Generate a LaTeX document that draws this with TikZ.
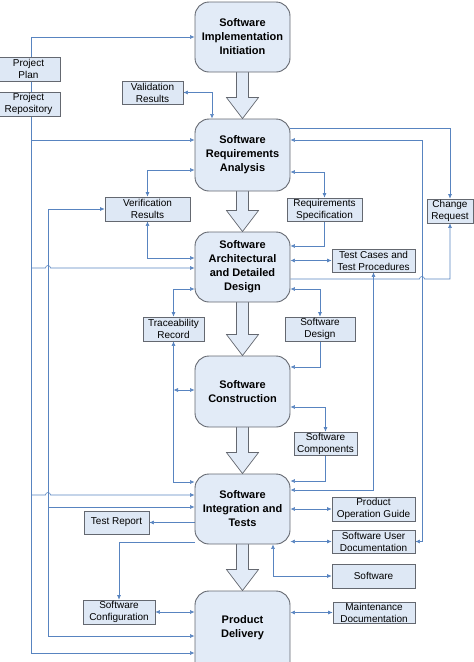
\documentclass[tikz,border=0pt]{standalone}
\usepackage{fontspec}
\setmainfont{Liberation Sans}
\usetikzlibrary{arrows.meta,calc,backgrounds}
\definecolor{StageFill}{RGB}{226,235,247}
\definecolor{ItemFill}{RGB}{222,232,245}
\definecolor{EdgeGray}{RGB}{100,104,112}
\definecolor{LinkBlue}{RGB}{88,132,192}

\begin{document}
\begin{tikzpicture}
[
x=1pt, y=-1pt,
>={Latex[length=4.5pt,width=4pt]},
Stage/.style={rectangle, rounded corners=14pt, draw=EdgeGray, fill=StageFill, line width=0.9pt,
  minimum width=95pt, minimum height=70pt, inner sep=0pt, align=center,
  font=\fontsize{11}{14}\selectfont\bfseries},
Item/.style={rectangle, draw=EdgeGray, fill=ItemFill, line width=0.7pt, inner sep=0pt,
  minimum height=24pt, align=center, font=\fontsize{10}{12}\selectfont},
Link/.style={->, draw=LinkBlue, line width=0.6pt},
TwoWay/.style={<->, draw=LinkBlue, line width=0.6pt},
Plain/.style={-, draw=LinkBlue, line width=0.6pt},
FlowArrow/.style={draw=EdgeGray, fill=StageFill, line width=0.7pt},
]

\useasboundingbox (0,0) rectangle (474,662);
\clip (0,0) rectangle (474,662);

% process stages
\node[Stage] (Initiation) at (242.5,37) {Software\\Implementation\\Initiation};
\node[Stage, minimum height=72pt] (Requirements) at (242.5,155) {Software\\Requirements\\Analysis};
\node[Stage] (Design) at (242.5,267) {Software\\Architectural\\and Detailed\\Design};
\node[Stage, minimum height=71pt] (Construction) at (242.5,391.5) {Software\\Construction};
\node[Stage] (Integration) at (242.5,509) {Software\\Integration and\\Tests};
\node[Stage, minimum height=86pt] (Delivery) at (242.5,634) {Product\\Delivery\\\mbox{}};

% work products
\node[Item, minimum width=63pt] (ProjectPlan) at (28.5,69) {Project\\Plan};
\node[Item, minimum width=63pt] (ProjectRepo) at (28.5,104) {Project\\Repository};
\node[Item, minimum width=61pt, minimum height=23pt] (ValResults) at (152.5,92.5) {Validation\\Results};
\node[Item, minimum width=85pt] (VerResults) at (147.5,209) {Verification\\Results};
\node[Item, minimum width=75pt, minimum height=23pt] (ReqSpec) at (324.5,209.5) {Requirements\\Specification};
\node[Item, minimum width=46pt] (ChangeReq) at (450,211) {Change\\Request};
\node[Item, minimum width=83pt, minimum height=23pt] (TestCases) at (373.5,260.5) {Test Cases and\\Test Procedures};
\node[Item, minimum width=61pt] (TraceRecord) at (173.5,329) {Traceability\\Record};
\node[Item, minimum width=70pt] (SwDesign) at (320,329) {Software\\Design};
\node[Item, minimum width=63pt, minimum height=23pt] (SwComponents) at (325.5,443.5) {Software\\Components};
\node[Item, minimum width=83pt] (OpGuide) at (373.5,509) {Product\\Operation Guide};
\node[Item, minimum width=83pt, minimum height=23pt] (UserDoc) at (373.5,541.5) {Software User\\Documentation};
\node[Item, minimum width=83pt] (SwProduct) at (373.5,576) {Software};
\node[Item, minimum width=82pt, minimum height=21pt] (MaintDoc) at (374,612.5) {Maintenance\\Documentation};
\node[Item, minimum width=65pt, minimum height=23pt] (TestReport) at (116.5,522.5) {Test Report};
\node[Item, minimum width=72pt] (SwConfig) at (119,612) {Software\\Configuration};

\coordinate (TopA) at (31,37);
\coordinate (EndA) at (31,653);
\coordinate (TopB) at (48,209);
\coordinate (EndB) at (48,636);

\begin{pgfonlayer}{background}
% stage to stage
\foreach \Upper/\Lower in {Initiation/Requirements, Requirements/Design, Design/Construction,
  Construction/Integration, Integration/Delivery}
  \draw[FlowArrow] ($(\Upper.south)+(-6,-3)$) -- ($(\Lower.north)+(-6,-21)$)
    -- ($(\Lower.north)+(-16,-21)$) -- (\Lower.north) -- ($(\Lower.north)+(16,-21)$)
    -- ($(\Lower.north)+(6,-21)$) -- ($(\Upper.south)+(6,-3)$);

% plan and repository
\draw[Link] (TopA) -- (Initiation.west);
\draw[Link] (TopA) -- (EndA) -- (Delivery.west |- EndA);
\draw[Link] (TopA |- 0,140) -- (Requirements.west |- 0,140);
\draw[Link] (TopA |- 0,268) -- (45.5,268) arc[start angle=180, end angle=360, radius=2.5] -- (Design.west |- 0,268);
\draw[Link] (TopA |- 0,495) -- (45.5,495) arc[start angle=180, end angle=360, radius=2.5] -- (Integration.west |- 0,495);
\draw[Link] (TopB) -- (VerResults.west);
\draw[Link] (TopB) -- (EndB) -- (Delivery.west |- EndB);
\draw[Link] (TopB |- 0,507) -- (Integration.west |- 0,507);

% requirements analysis
\draw[TwoWay] (ValResults.east) -| (Requirements.north -| 212,0);
\draw[TwoWay] (VerResults.north) |- (Requirements.west |- 0,170);
\draw[TwoWay] (ReqSpec.north) |- (Requirements.east |- 0,172);
\draw[Link] (Requirements.east |- 0,128) -| (ChangeReq.north);
\draw[TwoWay] (Requirements.east |- 0,140) -| (UserDoc.east -| 422,0) -- (UserDoc.east);

% design
\draw[TwoWay] (VerResults.south) |- (Design.west |- 0,258);
\draw[Link] (ReqSpec.south) |- (Design.east |- 0,246);
\draw[TwoWay] (Design.east |- TestCases.west) -- (TestCases.west);
\draw[Link] (Design.east |- 0,279) -- (419.5,279) arc[start angle=180, end angle=360, radius=2.5] -| (ChangeReq.south);
\draw[TwoWay] (Design.east |- 0,289) -| (SwDesign.north);
\draw[TwoWay] (Design.west |- 0,289) -| (TraceRecord.north);

% construction
\draw[Link] (SwDesign.south) |- (Construction.east |- 0,367);
\draw[TwoWay] (TraceRecord.south |- 0,390) -- (Construction.west |- 0,390);
\draw[TwoWay] (Construction.east |- 0,407) -| (SwComponents.north);

% integration and tests
\draw[TwoWay] (TraceRecord.south) |- (Integration.west |- 0,482);
\draw[Link] (SwComponents.south) |- (Integration.east |- 0,481);
\draw[TwoWay] (TestCases.south) |- (Integration.east |- 0,490);
\draw[TwoWay] (Integration.east |- OpGuide.west) -- (OpGuide.west);
\draw[TwoWay] (Integration.east |- UserDoc.west) -- (UserDoc.west);
\draw[TwoWay] (Integration.south -| 273,0) |- (SwProduct.west);
\draw[Link] (Integration.west |- TestReport.east) -- (TestReport.east);
\draw[Link] (Integration.west |- 0,542) -| (SwConfig.north);

% delivery
\draw[TwoWay] (SwConfig.east) -- (Delivery.west |- SwConfig.east);
\draw[TwoWay] (Delivery.east |- MaintDoc.west) -- (MaintDoc.west);
\end{pgfonlayer}

\end{tikzpicture}
\end{document}
